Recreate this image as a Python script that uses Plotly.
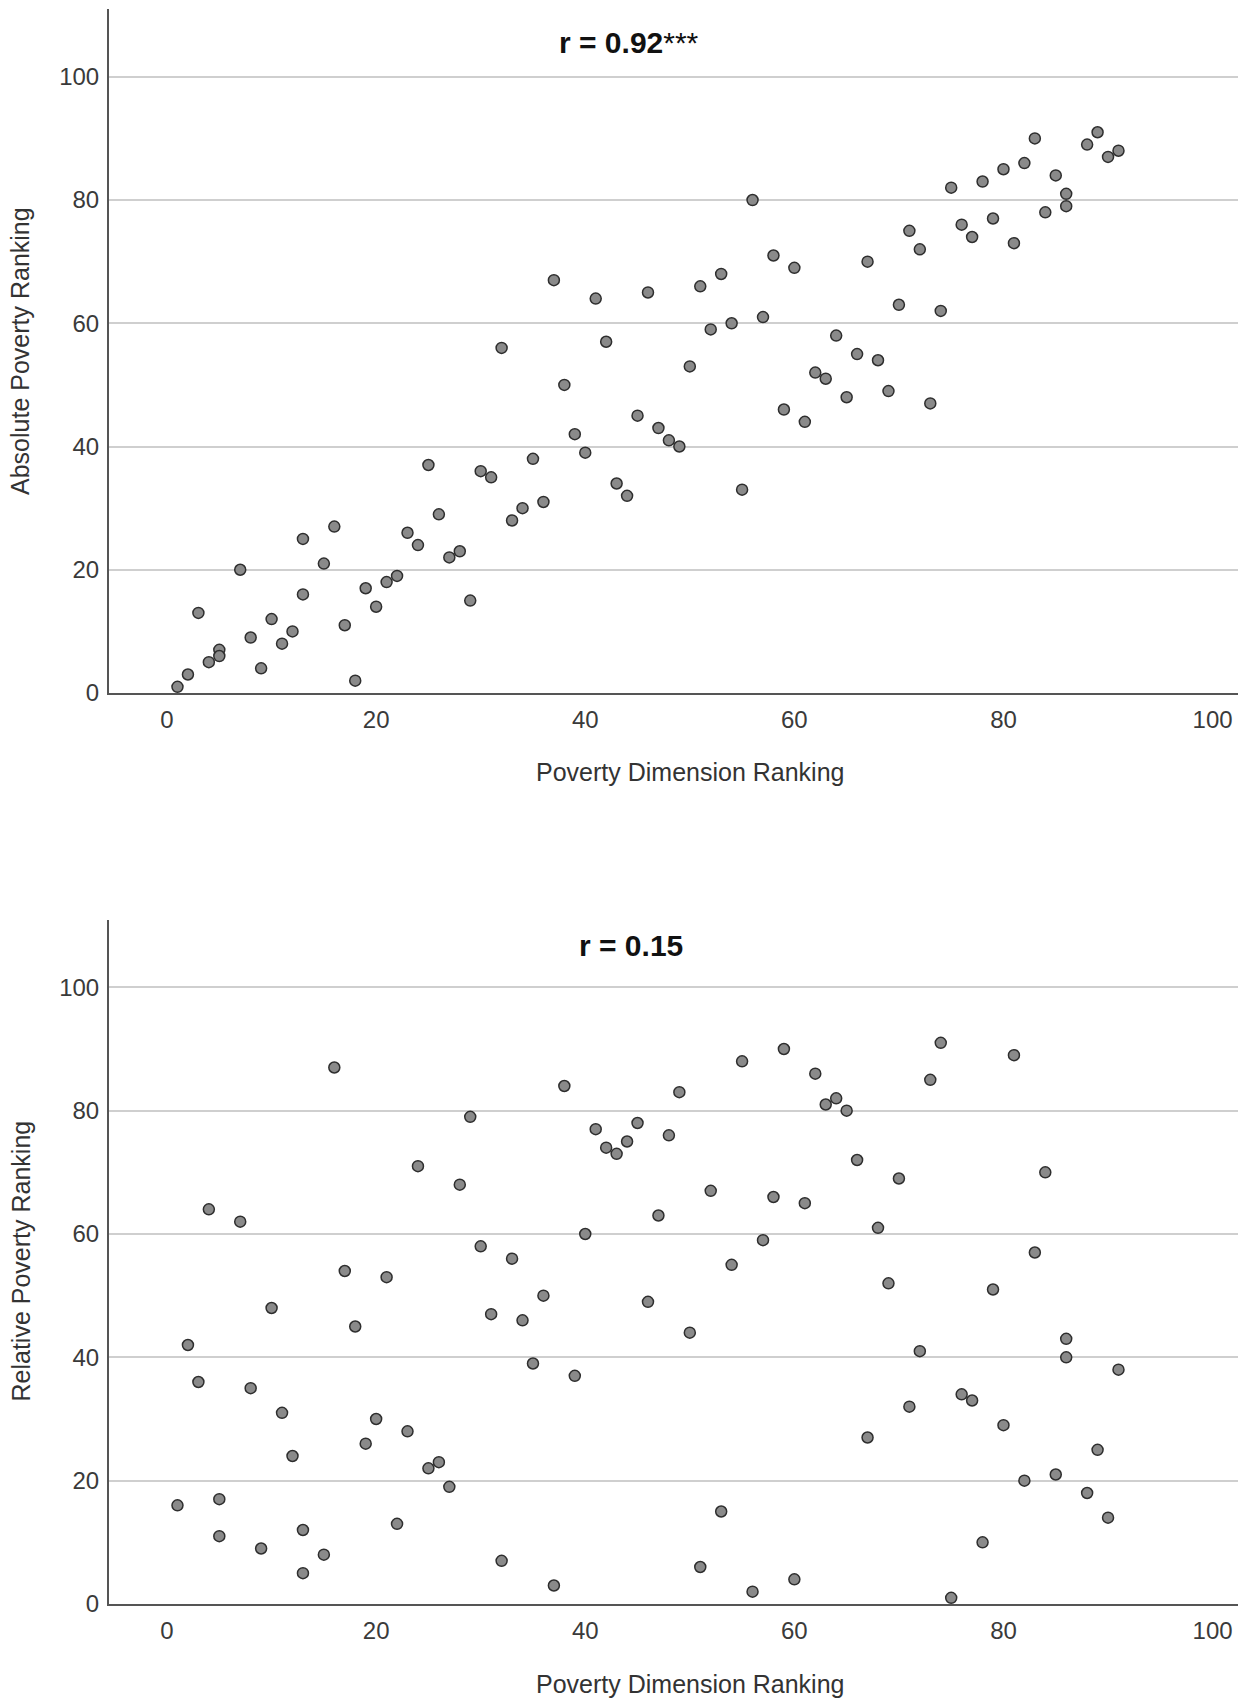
import plotly.graph_objects as go

# ---- data ----
dimension_rank = [1, 2, 3, 4, 5, 5, 7, 8, 9, 10,
                  11, 12, 13, 13, 15, 16, 17, 18, 19, 20,
                  21, 22, 23, 24, 25, 26, 27, 28, 29, 30,
                  31, 32, 33, 34, 35, 36, 37, 38, 39, 40,
                  41, 42, 43, 44, 45, 46, 47, 48, 49, 50,
                  51, 52, 53, 54, 55, 56, 57, 58, 59, 60,
                  61, 62, 63, 64, 65, 66, 67, 68, 69, 70,
                  71, 72, 73, 74, 75, 76, 77, 78, 79, 80,
                  81, 82, 83, 84, 85, 86, 86, 88, 89, 90, 91]

absolute_rank = [1, 3, 13, 5, 7, 6, 20, 9, 4, 12,
                 8, 10, 25, 16, 21, 27, 11, 2, 17, 14,
                 18, 19, 26, 24, 37, 29, 22, 23, 15, 36,
                 35, 56, 28, 30, 38, 31, 67, 50, 42, 39,
                 64, 57, 34, 32, 45, 65, 43, 41, 40, 53,
                 66, 59, 68, 60, 33, 80, 61, 71, 46, 69,
                 44, 52, 51, 58, 48, 55, 70, 54, 49, 63,
                 75, 72, 47, 62, 82, 76, 74, 83, 77, 85,
                 73, 86, 90, 78, 84, 81, 79, 89, 91, 87, 88]

relative_rank = [16, 42, 36, 64, 17, 11, 62, 35, 9, 48,
                 31, 24, 12, 5, 8, 87, 54, 45, 26, 30,
                 53, 13, 28, 71, 22, 23, 19, 68, 79, 58,
                 47, 7, 56, 46, 39, 50, 3, 84, 37, 60,
                 77, 74, 73, 75, 78, 49, 63, 76, 83, 44,
                 6, 67, 15, 55, 88, 2, 59, 66, 90, 4,
                 65, 86, 81, 82, 80, 72, 27, 61, 52, 69,
                 32, 41, 85, 91, 1, 34, 33, 10, 51, 29,
                 89, 20, 57, 70, 21, 43, 40, 18, 25, 14, 38]

tick_vals = [0, 20, 40, 60, 80, 100]
tick_text = ["0", "20", "40", "60", "80", "100"]

titles = ["<b>r = 0.92</b>***", "<b>r = 0.15</b>"]
x_title = "Poverty Dimension Ranking"
y_titles = ["Absolute Poverty Ranking", "Relative Poverty Ranking"]

# ---- styling ----
FONT = "Liberation Sans, Arial, sans-serif"
marker = dict(size=11, color="#8a8a8a", line=dict(color="#2e2e2e", width=1.5))

fig = go.Figure()
fig.add_trace(go.Scatter(x=dimension_rank, y=absolute_rank, mode="markers",
                         marker=marker, xaxis="x", yaxis="y", cliponaxis=False,
                         showlegend=False))
fig.add_trace(go.Scatter(x=dimension_rank, y=relative_rank, mode="markers",
                         marker=marker, xaxis="x2", yaxis="y2", cliponaxis=False,
                         showlegend=False))

W, H = 1238, 1707
ml, mr, mt, mb = 109, 0, 9, 103
ph = H - mt - mb
pw = W - ml - mr

def py(p):  # pixel y -> paper y
    return (H - mb - p) / ph

def px(p):  # pixel x -> paper x
    return (p - ml) / pw

xcommon = dict(range=[-5.55, 102.43], tickvals=tick_vals, ticktext=tick_text,
               showgrid=False, zeroline=False, showline=True, linecolor="#555555",
               linewidth=2, ticks="", ticklabelstandoff=4,
               tickfont=dict(family=FONT, size=24, color="#3a3a3a"), fixedrange=True)
ycommon = dict(range=[0, 111], tickvals=tick_vals, ticktext=tick_text,
               showgrid=True, gridcolor="#cfcfcf", gridwidth=2, zeroline=False,
               showline=True, linecolor="#555555", linewidth=2, ticks="",
               ticklabelstandoff=3,
               tickfont=dict(family=FONT, size=24, color="#3a3a3a"), fixedrange=True)

fig.update_layout(
    width=W, height=H,
    margin=dict(l=ml, r=mr, t=mt, b=mb),
    paper_bgcolor="white", plot_bgcolor="white",
    font=dict(family=FONT, color="#333333"),
    xaxis=dict(**xcommon, anchor="y", domain=[0, 1]),
    yaxis=dict(**ycommon, anchor="x", domain=[py(693), 1]),
    xaxis2=dict(**xcommon, anchor="y2", domain=[0, 1]),
    yaxis2=dict(**ycommon, anchor="x2", domain=[0, py(919.5)]),
)

annotations = [
    dict(text=titles[0], x=px(629), y=py(42), xref="paper", yref="paper",
         xanchor="center", yanchor="middle", showarrow=False,
         font=dict(family=FONT, size=30, color="#111111")),
    dict(text=titles[1], x=px(631), y=py(945), xref="paper", yref="paper",
         xanchor="center", yanchor="middle", showarrow=False,
         font=dict(family=FONT, size=30, color="#111111")),
    dict(text=x_title, x=px(690), y=py(772), xref="paper", yref="paper",
         xanchor="center", yanchor="middle", showarrow=False,
         font=dict(family=FONT, size=25, color="#333333")),
    dict(text=x_title, x=px(690), y=py(1684), xref="paper", yref="paper",
         xanchor="center", yanchor="middle", showarrow=False,
         font=dict(family=FONT, size=25, color="#333333")),
    dict(text=y_titles[0], x=px(20), y=py(351), xref="paper", yref="paper",
         xanchor="center", yanchor="middle", showarrow=False, textangle=-90,
         font=dict(family=FONT, size=25, color="#333333")),
    dict(text=y_titles[1], x=px(20), y=py(1261.5), xref="paper", yref="paper",
         xanchor="center", yanchor="middle", showarrow=False, textangle=-90,
         font=dict(family=FONT, size=25, color="#333333")),
]
fig.update_layout(annotations=annotations)

fig.write_html("out.html")
